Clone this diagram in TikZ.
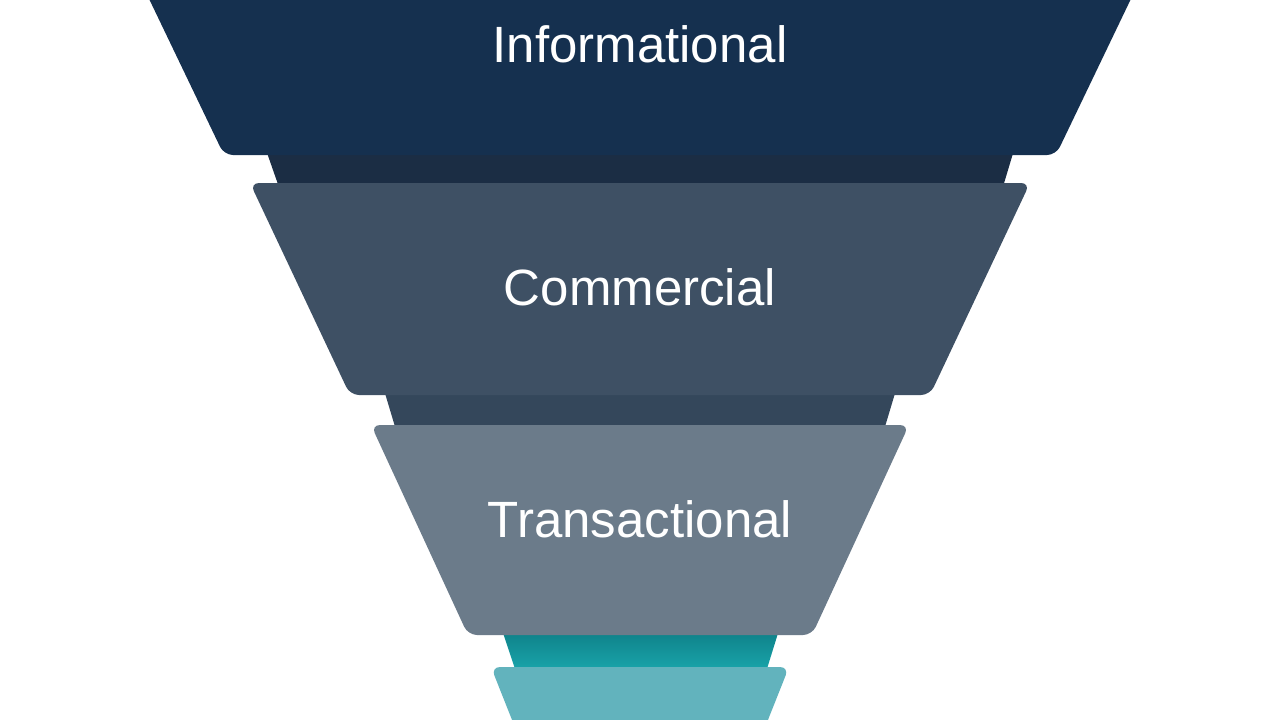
\documentclass[tikz,border=0pt]{standalone}
\usepackage{fontspec}
\setsansfont{Liberation Sans}
\definecolor{navy}{HTML}{15304F}
\definecolor{navyband}{HTML}{1B2D44}
\definecolor{slate}{HTML}{3E5064}
\definecolor{slateband}{HTML}{34475B}
\definecolor{grey}{HTML}{6B7B8A}
\definecolor{tealband}{HTML}{1AA6AC}
\definecolor{tealdark}{HTML}{0E8088}
\definecolor{teal}{HTML}{62B3BD}
\tikzset{
	layer/.style={rounded corners=9pt},
	label/.style={text=white,anchor=base,font=\sffamily\fontsize{51}{56}\selectfont}
}
\begin{document}
\begin{tikzpicture}[x=1pt,y=-1pt]
			\useasboundingbox (0,0) rectangle (1280,720);
			% bands between the layers
			\fill[navyband]		(266,150) -- (1014,150) -- (1002,190) -- (280,190) -- cycle;
			\fill[slateband]		(384,390) -- (896,390) -- (884,430) -- (396,430) -- cycle;
			\shade[top color=tealdark,bottom color=tealband]	(502,630) -- (779,630) -- (766,672) -- (516,672) -- cycle;
			% layers
			\fill[navy,layer]		(140,-20) -- (1140,-20) -- (1056,155) -- (224,155) -- cycle;
			\fill[slate,layer]		(250,183) -- (1030,183) -- (930,395) -- (350,395) -- cycle;
			\fill[grey,layer]		(371,425) -- (909,425) -- (812,635) -- (468,635) -- cycle;
			\fill[teal,layer]		(491,667) -- (789,667) -- (760,740) -- (520,740) -- cycle;
			\node(Informational)	[label] at (640,62)		{Informational};
			\node(Commercial)		[label] at (640,305)	{Commercial};
			\node(Transactional)	[label] at (640,537)	{Transactional};
		\end{tikzpicture}
\end{document}
